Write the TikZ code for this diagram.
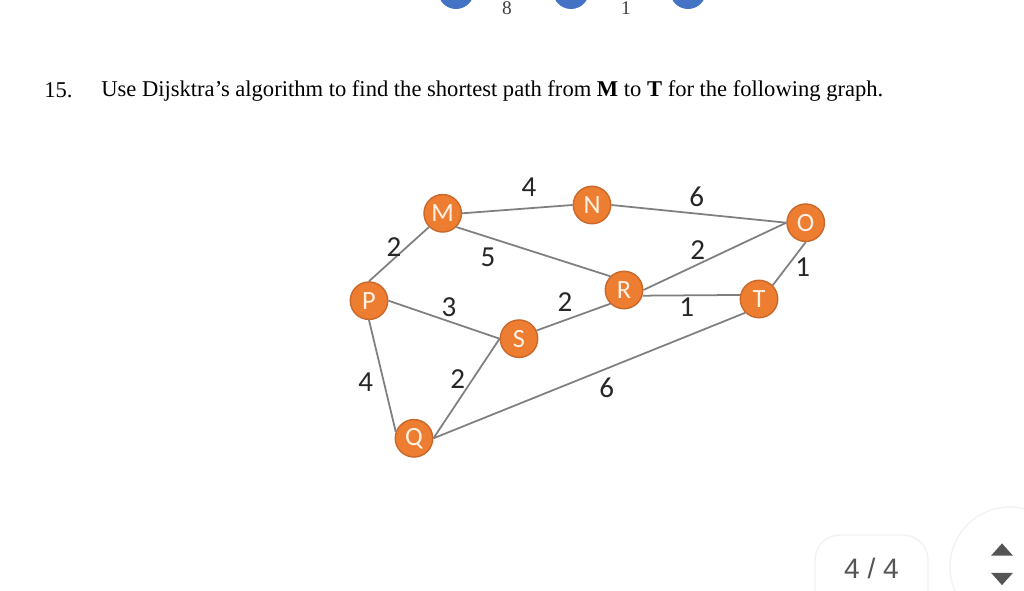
\documentclass[tikz,border=0pt]{standalone}
\usepackage{fontspec}
\setmainfont{Liberation Serif}
\newfontfamily\labelfont{Carlito}
\newfontfamily\pagerfont{Liberation Sans}
\usepackage{xcolor}
\usetikzlibrary{arrows.meta,calc,positioning,shapes.geometric}
\definecolor{vertexfill}{HTML}{ED7D31}
\definecolor{vertexedge}{HTML}{C9682A}
\definecolor{topblue}{HTML}{4472C4}
\definecolor{edgegray}{HTML}{7F7F7F}
\definecolor{pagergray}{HTML}{555555}
\tikzset{
  vertex/.style={circle, fill=vertexfill, draw=vertexedge, line width=0.8pt, minimum size=0.75cm, inner sep=0pt, text=white!90!orange, font=\labelfont\fontsize{15}{15}\selectfont},
  weight/.style={text=black!85, font=\labelfont\fontsize{16.5}{16.5}\selectfont, inner sep=0pt},
  link/.style={edgegray, line width=1pt},
  topdot/.style={circle, fill=topblue, minimum size=0.72cm, inner sep=0pt},
  softbox/.style={draw=black!5, fill=white, line width=0.8pt},
}

\begin{document}
\begin{tikzpicture}[x=0.02cm, y=-0.02cm, >=stealth]
  \useasboundingbox (0,0) rectangle (1024,591);
  \clip (0,0) rectangle (1024,591);
  \fill[white] (0,0) rectangle (1024,591);
  % Top of the previous page
  \node[topdot] (dotA) at (456,-9) {};
  \node[topdot] (dotB) at (571,-9) {};
  \node[topdot] (dotC) at (688,-9) {};
  \node[font=\fontsize{11}{11}\selectfont, text=black!75] (topeight) at (507,8) {8};
  \node[font=\fontsize{11}{11}\selectfont, text=black!75] (topone) at (626,8) {1};
  % Question
  \node[anchor=west, inner sep=0pt, font=\fontsize{12.84}{13}\selectfont] (qnum) at (44,90.5) {15.};
  \node[anchor=west, inner sep=0pt, font=\fontsize{12.84}{13}\selectfont] (qtext) at (101,90.5) {Use Dijsktra’s algorithm to find the shortest path from \textbf{M} to \textbf{T} for the following graph.};
  % Vertices
  \node[vertex] (M) at (442.7,213.3) {M};
  \node[vertex] (N) at (592,205) {N};
  \node[vertex] (O) at (805.7,222.7) {O};
  \node[vertex] (R) at (624,290) {R};
  \node[vertex] (T) at (759,299) {T};
  \node[vertex] (P) at (369,300.7) {P};
  \node[vertex] (S) at (519,338.7) {S};
  \node[vertex] (Q) at (414,438.3) {Q};
  % Edges
  \foreach \a/\b in {M.east/N.west, N.east/O.west, M.-45/R.135, P.north/M.225, R.east/O.west, O.south/T.45, P.east/S.west, S.25/R.225, P.south/Q.160, S.west/Q.east, Q.east/T.225, R.-17/T.168}
    \draw[link] (\a) -- (\b);
  % Weights
  \node[weight] (wMN) at (529,186.7) {4};
  \node[weight] (wNO) at (696.7,196.7) {6};
  \node[weight] (wPM) at (394,247) {2};
  \node[weight] (wMR) at (488,257.7) {5};
  \node[weight] (wRO) at (697.7,250) {2};
  \node[weight] (wOT) at (802.7,267) {1};
  \node[weight] (wPS) at (449,307) {3};
  \node[weight] (wSR) at (565,301.7) {2};
  \node[weight] (wRT) at (686.7,306.7) {1};
  \node[weight] (wPQ) at (365.7,382) {4};
  \node[weight] (wSQ) at (457.7,379) {2};
  \node[weight] (wQT) at (606.7,388) {6};
  % Page counter
  \draw[softbox] (815,610) -- (815,560) arc (180:270:25) -- (903,535) arc (270:360:25) -- (928,610);
  \node[text=pagergray, font=\pagerfont\fontsize{16}{16}\selectfont] (pagecount) at (871.5,568) {4 / 4};
  \node[circle, softbox, minimum size=2.4cm, inner sep=0pt] (pagerbtn) at (1010,567) {};
  \node[regular polygon, regular polygon sides=3, fill=pagergray, minimum size=0.5cm, inner sep=0pt, yscale=0.65] (pgup) at (1002,551.5) {};
  \node[regular polygon, regular polygon sides=3, shape border rotate=180, fill=pagergray, minimum size=0.5cm, inner sep=0pt, yscale=0.65] (pgdown) at (1002,577) {};
\end{tikzpicture}
\end{document}
